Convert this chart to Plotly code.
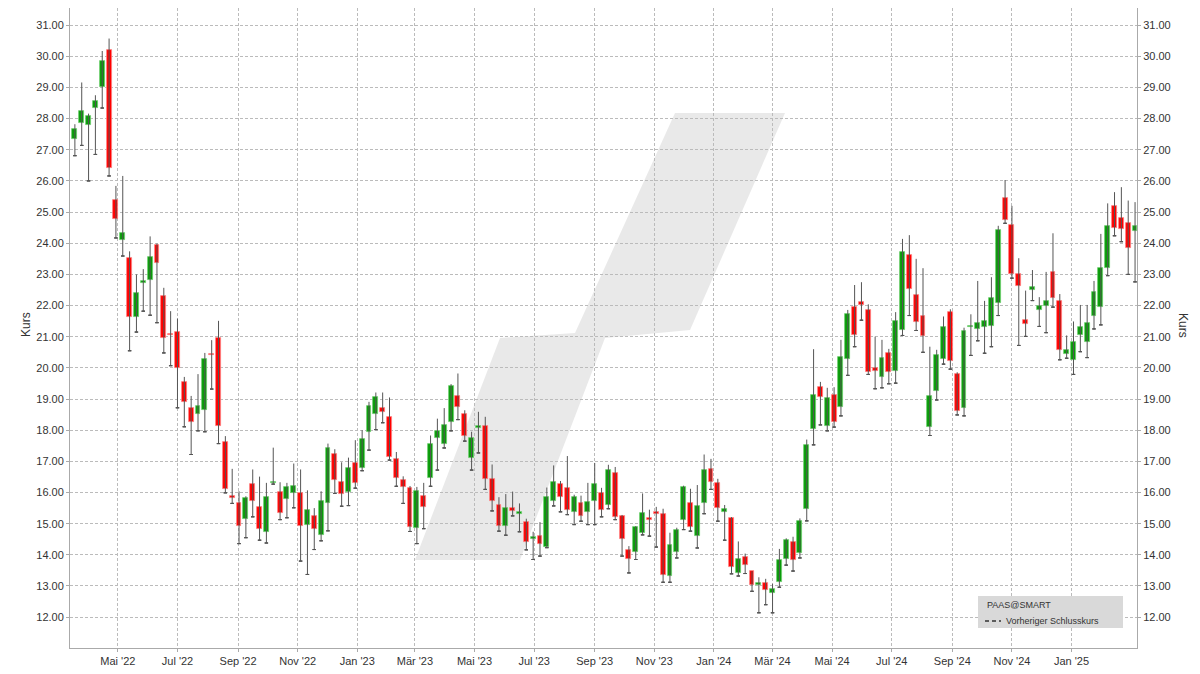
import pandas as pd
import plotly.graph_objects as go

# weekly candles, PAAS
dates = pd.date_range("2022-03-18", periods=157, freq="7D")

open_ = [27.36,27.86,27.81,28.34,29.0,30.19,25.38,24.12,23.52,21.64,
22.73,22.81,23.94,22.32,21.09,21.14,19.55,18.72,18.51,18.66,
20.45,20.97,17.63,15.88,15.65,15.14,16.28,15.53,14.72,16.29,
16.01,15.78,15.99,15.98,14.96,15.26,14.64,15.65,17.24,16.34,
16.03,16.94,16.80,17.94,18.53,18.72,18.42,17.09,16.40,16.14,
14.87,15.90,16.47,17.76,17.56,18.27,19.11,18.53,17.12,18.07,
18.12,16.43,15.61,14.93,15.49,15.31,15.07,14.51,14.59,14.25,
15.72,16.27,16.13,15.36,15.67,15.37,15.72,16.0,15.60,16.63,
15.25,14.17,14.09,14.71,15.18,15.36,15.30,13.32,14.09,15.11,
15.67,14.62,15.65,16.77,16.29,15.37,15.19,13.42,13.93,13.47,
13.02,13.10,12.77,13.14,13.88,14.42,14.06,15.48,18.04,19.38,
18.14,19.13,18.76,20.28,21.95,22.10,21.86,20.01,19.72,20.49,
19.91,21.20,23.61,22.33,21.67,18.09,19.26,20.29,21.79,19.81,
18.71,21.31,21.26,21.30,21.36,22.07,25.45,24.59,23.02,21.55,
22.49,21.86,21.99,23.07,22.15,20.46,20.26,21.06,20.84,21.68,
21.97,23.22,25.20,24.80,24.64,24.40,24.18]

high = [27.82,29.16,28.16,28.75,30.17,30.57,25.84,26.16,23.74,23.0,
23.17,24.22,23.99,22.57,21.82,21.58,19.71,19.10,19.80,20.48,
20.89,21.51,17.81,16.76,16.04,15.88,16.74,16.51,16.31,17.44,
16.33,16.31,16.93,16.74,16.07,15.50,16.04,17.57,17.39,16.97,
17.12,17.68,18.0,18.91,19.21,19.21,19.05,17.30,16.52,16.21,
16.18,16.31,17.83,18.37,18.71,19.48,19.82,18.64,17.95,18.59,
18.43,16.90,15.85,15.95,16.03,15.65,15.16,14.74,15.05,16.16,
16.87,16.37,17.17,15.93,15.90,16.31,16.95,16.15,16.89,16.82,
15.28,14.28,14.92,15.97,15.45,15.54,15.48,14.71,14.87,16.22,
16.12,16.24,17.22,17.08,16.44,15.60,15.21,14.43,14.04,13.47,
13.28,13.23,13.07,14.19,14.53,14.58,15.17,17.70,20.60,19.55,
19.36,19.38,20.90,21.86,22.66,22.75,22.04,21.0,20.90,20.61,
21.79,24.14,24.26,23.50,23.20,20.68,20.58,21.65,21.88,19.86,
21.29,21.72,22.79,22.15,22.91,24.56,26.03,25.20,23.52,22.48,
23.14,22.27,23.08,24.32,22.37,21.04,21.49,22.02,22.02,22.79,
24.30,25.28,25.64,25.80,25.37,25.32,26.12]

low = [26.81,27.14,26.0,26.85,28.34,26.16,24.17,23.59,20.55,21.15,
21.82,21.69,21.45,20.48,20.07,18.72,18.11,17.22,17.98,17.95,
19.32,17.57,15.99,15.65,14.36,14.55,15.22,14.47,14.38,16.27,
15.13,15.19,15.51,13.80,13.37,14.17,14.45,14.77,15.97,15.56,
15.58,16.14,16.70,17.36,18.02,18.24,17.04,16.20,15.65,14.75,
14.36,14.84,16.20,16.72,17.43,17.98,18.34,17.65,16.72,17.27,
16.10,15.41,14.76,14.63,15.25,14.74,14.16,13.85,13.96,14.23,
15.57,15.38,15.29,14.97,15.08,14.97,14.97,15.22,15.48,15.13,
13.96,13.42,13.85,14.64,14.60,14.25,13.12,13.12,13.90,14.81,
14.76,14.22,15.32,16.10,15.08,14.47,13.39,13.32,13.40,12.83,
12.14,12.40,12.14,12.96,13.67,13.48,13.90,15.09,17.53,18.17,
17.98,18.10,18.46,19.76,20.68,21.53,19.79,19.33,19.36,19.49,
19.51,21.04,21.68,21.20,20.50,17.83,18.97,20.12,19.96,18.49,
18.46,20.40,20.87,20.47,20.68,21.68,24.64,22.88,20.72,21.01,
22.16,21.33,21.13,21.95,20.26,20.31,19.79,20.52,20.33,21.25,
21.38,22.96,24.24,24.05,23.0,22.76,23.09]

close = [27.66,28.25,28.10,28.58,29.84,26.43,24.77,24.34,21.64,22.41,
22.75,23.55,23.38,20.97,21.05,20.01,18.91,18.27,18.77,20.30,
20.41,18.15,16.10,15.84,14.93,15.84,15.74,14.83,15.86,16.31,
15.35,16.18,16.21,14.93,15.43,14.83,15.73,17.42,16.41,15.95,
16.79,16.31,17.72,18.78,19.08,18.57,17.13,16.47,16.18,14.90,
16.05,15.54,17.57,17.99,18.17,19.41,18.73,17.83,17.76,18.09,
16.45,15.72,14.92,15.50,15.41,15.33,14.40,14.53,14.35,15.85,
16.33,15.86,15.45,15.86,15.24,15.68,16.27,15.44,16.72,15.22,
14.51,13.87,14.89,15.33,15.13,15.32,13.34,14.31,14.79,16.18,
14.90,15.57,16.72,16.34,15.50,15.48,13.60,13.88,13.67,13.04,
13.10,12.86,12.90,13.83,14.49,13.84,15.09,17.54,19.13,19.07,
19.02,18.25,20.34,21.73,21.06,22.01,19.88,19.91,20.32,19.88,
21.49,23.71,22.52,21.48,21.01,19.11,20.40,21.30,20.21,18.63,
21.18,21.34,21.43,21.49,22.25,24.41,24.75,23.0,22.64,21.41,
22.58,21.99,22.15,22.24,20.58,20.56,20.82,21.32,21.43,22.42,
23.20,24.56,24.48,24.45,23.86,24.56,25.75]

tick_dates = pd.date_range("2022-05-01", "2025-01-01", freq="2MS")
month_names = {1: "Jan", 3: "Mär", 5: "Mai", 7: "Jul", 9: "Sep", 11: "Nov"}
tick_text = [f"{month_names[d.month]} '{d.year % 100:02d}" for d in tick_dates]
y_ticks = list(range(12, 32))

df = pd.DataFrame({"d": dates, "o": open_, "h": high, "l": low, "c": close})
df["top"] = df[["o", "c"]].max(axis=1)
df["bot"] = df[["o", "c"]].min(axis=1)
df["size"] = (df.top - df.bot).clip(lower=0.05)
up = df[df.c >= df.o]
dn = df[df.c < df.o]

fig = go.Figure()
# wicks
fig.add_trace(go.Candlestick(
    x=df.d, open=df.l, high=df.h, low=df.l, close=df.l,
    increasing=dict(line=dict(color="#555555", width=1), fillcolor="#555555"),
    decreasing=dict(line=dict(color="#555555", width=1), fillcolor="#555555"),
    whiskerwidth=0, hoverinfo="skip", showlegend=False))
# bodies
body_w = 5 * 24 * 3600 * 1000
for part, fill, edge in [(up, "#0a9a0a", "#6fcf6f"), (dn, "#ff0000", "#ff8080")]:
    fig.add_trace(go.Bar(x=part.d, y=part["size"], base=part.bot, width=body_w,
                         marker=dict(color=fill, line=dict(color=edge, width=0.8)),
                         showlegend=False))

W, H = 1192, 666
L, R, T, B = 62, 63, 0, 26
pw, ph = W - L - R, H - T - B


def px(x, y):
    # reference page pixels -> paper coords (page is offset 8px)
    x, y = x - 8, y - 8
    return (x - L) / pw, (H - B - y) / ph


# watermark logo
pts = [(415, 560), (500, 338), (575, 333), (675, 113), (785, 113),
       (690, 330), (605, 338), (520, 560)]
path = "M " + " L ".join(f"{px(x, y)[0]:.4f},{px(x, y)[1]:.4f}" for x, y in pts) + " Z"
fig.add_shape(type="path", path=path, xref="paper", yref="paper",
              fillcolor="rgba(200,200,200,0.4)", line=dict(width=0), layer="below")

# legend box
x0, y0 = px(978, 628)
x1, y1 = px(1123, 596)
fig.add_shape(type="rect", xref="paper", yref="paper", x0=x0, y0=y0, x1=x1, y1=y1,
              fillcolor="#d9d9d9", line=dict(width=0))
lx0, ly = px(985, 621)
lx1, _ = px(1001, 621)
fig.add_shape(type="line", xref="paper", yref="paper", x0=lx0, y0=ly, x1=lx1, y1=ly,
              line=dict(color="#333333", width=1.5, dash="4px,3px"))
ax, ay = px(985, 612)
fig.add_annotation(x=ax, y=ay, xref="paper", yref="paper", text="PAAS@SMART",
                   showarrow=False, xanchor="left", font=dict(size=9, color="#333333"))
ax, ay = px(1004, 628)
fig.add_annotation(x=ax, y=ay, xref="paper", yref="paper", text="Vorheriger Schlusskurs",
                   showarrow=False, xanchor="left", font=dict(size=9, color="#333333"))

# axis titles
ax, ay = px(17, 325)
fig.add_annotation(x=ax, y=ay, xref="paper", yref="paper", text="Kurs",
                   showarrow=False, textangle=-90, font=dict(size=12, color="#333333"))
ax, ay = px(1192, 325)
fig.add_annotation(x=ax, y=ay, xref="paper", yref="paper", text="Kurs",
                   showarrow=False, textangle=90, font=dict(size=12, color="#333333"))

grid = dict(showgrid=True, gridcolor="#bbbbbb", griddash="3px,2px", gridwidth=1)
fig.update_layout(
    width=W, height=H,
    margin=dict(l=L, r=R, t=T, b=B),
    paper_bgcolor="white", plot_bgcolor="white", bargap=0,
    font=dict(family="Liberation Sans, Arial", size=11, color="#333333"),
    xaxis=dict(range=["2022-03-13", "2025-03-09"], tickvals=tick_dates, ticktext=tick_text,
               rangeslider=dict(visible=False), showline=True, linecolor="#aaaaaa",
               mirror=True, ticks="outside", ticklen=3, tickcolor="#aaaaaa", **grid),
    yaxis=dict(range=[11.01, 31.55], tickvals=y_ticks, tickformat=".2f",
               showline=True, linecolor="#aaaaaa", mirror=True, zeroline=False,
               ticks="outside", ticklen=3, tickcolor="#aaaaaa", **grid),
    yaxis2=dict(range=[11.01, 31.55], tickvals=y_ticks, tickformat=".2f", overlaying="y",
                side="right", showgrid=False, zeroline=False,
                ticks="outside", ticklen=3, tickcolor="#aaaaaa"),
)
# invisible trace to show the right axis
fig.add_trace(go.Scatter(x=[dates[0]], y=[20], yaxis="y2", mode="markers",
                         marker=dict(opacity=0), hoverinfo="skip", showlegend=False))

fig.write_html("out.html")
